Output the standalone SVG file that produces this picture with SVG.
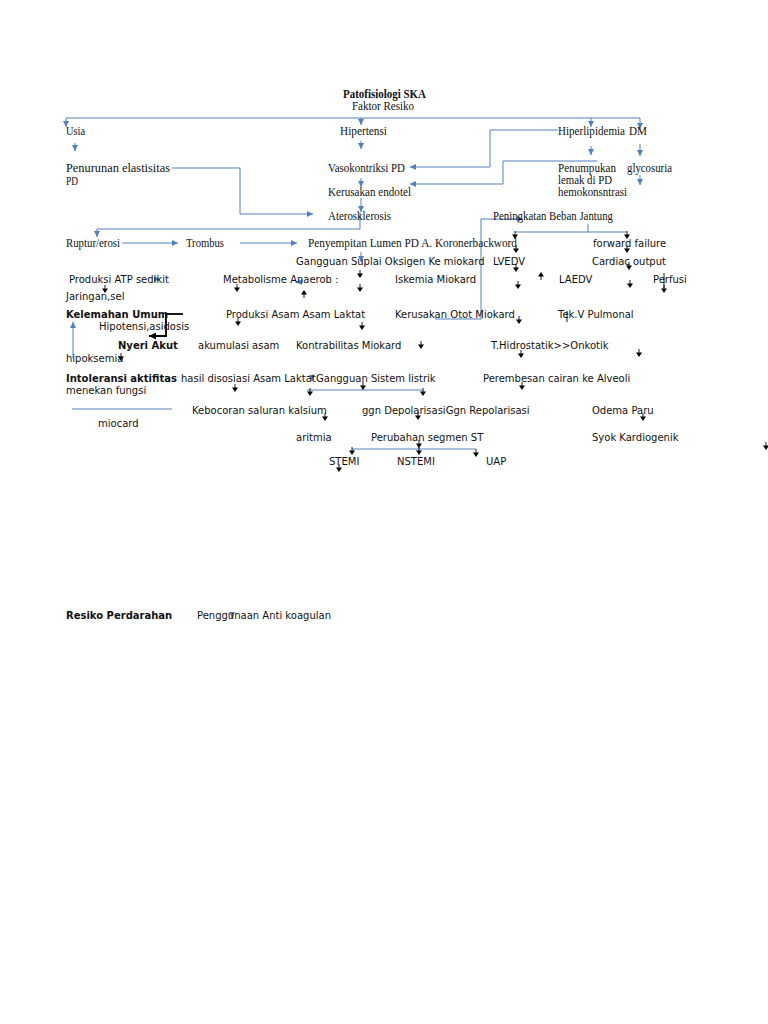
<svg xmlns="http://www.w3.org/2000/svg" xmlns:xlink="http://www.w3.org/1999/xlink" width="768" height="1024" viewBox="0 0 768 1024">
<style>
.s{font-family:"Liberation Serif","Times New Roman",serif;font-size:11.5px;fill:#111}
.b{font-weight:bold}
.t{font-family:"DejaVu Sans","Liberation Sans",sans-serif;font-size:10px;fill:#111}
.c{fill:none;stroke:#4F81BD;stroke-width:1}
.k{fill:none;stroke:#000;stroke-width:1.8}
</style>
<defs>
<marker id="ab" viewBox="0 0 10 10" refX="10" refY="5" markerUnits="userSpaceOnUse" markerWidth="6" markerHeight="6" orient="auto"><path d="M0,0 L10,5 L0,10 Z" fill="#4F81BD"/></marker>
<marker id="ak" viewBox="0 0 10 10" refX="10" refY="5" markerUnits="userSpaceOnUse" markerWidth="7" markerHeight="7" orient="auto"><path d="M0,0 L10,5 L0,10 Z" fill="#000"/></marker>
<g id="dn"><line x1="0" y1="-7" x2="0" y2="-2" stroke="#000" stroke-width="0.9"/><path d="M-3,-3.5 L3,-3.5 L0,1 Z" fill="#000"/></g>
<g id="up"><line x1="0" y1="7" x2="0" y2="2" stroke="#000" stroke-width="0.9"/><path d="M-3,3.5 L3,3.5 L0,-1 Z" fill="#000"/></g>
</defs>
<rect width="768" height="1024" fill="#fff"/>

<g id="connectors">
<path class="c" d="M66,118 H640"/>
<path class="c" d="M66,118 V127" marker-end="url(#ab)"/>
<path class="c" d="M361,118 V125" marker-end="url(#ab)"/>
<path class="c" d="M591,118 V127" marker-end="url(#ab)"/>
<path class="c" d="M640,118 V129" marker-end="url(#ab)"/>
<path class="c" d="M75,143 V151" marker-end="url(#ab)"/>
<path class="c" d="M361,141 V149" marker-end="url(#ab)"/>
<path class="c" d="M591,146 V155" marker-end="url(#ab)"/>
<path class="c" d="M640,144 V156" marker-end="url(#ab)"/>
<path class="c" d="M640,175 V185" marker-end="url(#ab)"/>
<path class="c" d="M172,168 H240 V214 H313" marker-end="url(#ab)"/>
<path class="c" d="M558,130 H490 V167 H410" marker-end="url(#ab)"/>
<path class="c" d="M597,161 H503 V184 H410" marker-end="url(#ab)"/>
<path class="c" d="M361,178 V187" marker-end="url(#ab)"/>
<path class="c" d="M361,198 V212" marker-end="url(#ab)"/>
<path class="c" d="M360,213 V229 H97 V237" marker-end="url(#ab)"/>
<path class="c" d="M122,243 H178" marker-end="url(#ab)"/>
<path class="c" d="M240,243 H297" marker-end="url(#ab)"/>
<path class="c" d="M361,252 V262" marker-end="url(#ab)"/>
<path class="c" d="M435,319 H481 V219 H523" marker-end="url(#ab)"/>
<path class="c" d="M588,224 V232 M515,232 H627"/>
<path class="c" d="M154,279 H160" marker-end="url(#ab)"/>
<path class="c" d="M302,282 H296" marker-end="url(#ab)"/>
<path class="c" d="M73,358 V322" marker-end="url(#ab)"/>
<path class="c" d="M312,376 V381" marker-end="url(#ab)"/>
<path class="c" d="M307,390 H423"/>
<path class="c" d="M72,409 H172"/>
<path class="c" d="M352,449 H476"/>
<path class="c" d="M232,612 V618" marker-end="url(#ab)"/>
<path class="k" d="M165,314 H183"/>
<path class="k" d="M166,314 V336 H149" marker-end="url(#ak)"/>
<line x1="567" y1="311" x2="567" y2="322" stroke="#000" stroke-width="0.9"/>
<line x1="664" y1="273" x2="664" y2="289" stroke="#000" stroke-width="0.9"/>
<use xlink:href="#dn" x="664" y="292"/>
<use xlink:href="#dn" x="515" y="238"/>
<use xlink:href="#dn" x="627" y="238"/>
<use xlink:href="#dn" x="516" y="252"/>
<use xlink:href="#dn" x="627" y="252"/>
<use xlink:href="#dn" x="516" y="271"/>
<use xlink:href="#dn" x="629" y="269"/>
<use xlink:href="#dn" x="518" y="288"/>
<use xlink:href="#dn" x="630" y="287"/>
<use xlink:href="#up" x="541" y="273"/>
<use xlink:href="#dn" x="360" y="277"/>
<use xlink:href="#dn" x="360" y="291"/>
<use xlink:href="#up" x="304" y="291"/>
<use xlink:href="#dn" x="105" y="292"/>
<use xlink:href="#dn" x="237" y="291"/>
<use xlink:href="#dn" x="238" y="325"/>
<use xlink:href="#dn" x="362" y="329"/>
<use xlink:href="#dn" x="519" y="323"/>
<use xlink:href="#dn" x="421" y="348"/>
<use xlink:href="#dn" x="521" y="357"/>
<use xlink:href="#dn" x="639" y="356"/>
<use xlink:href="#dn" x="121" y="360"/>
<use xlink:href="#dn" x="235" y="391"/>
<use xlink:href="#dn" x="310" y="395"/>
<use xlink:href="#dn" x="363" y="389"/>
<use xlink:href="#dn" x="423" y="395"/>
<use xlink:href="#dn" x="522" y="389"/>
<use xlink:href="#dn" x="325" y="420"/>
<use xlink:href="#dn" x="418" y="419"/>
<use xlink:href="#dn" x="643" y="420"/>
<use xlink:href="#dn" x="419" y="447"/>
<use xlink:href="#dn" x="352" y="454"/>
<use xlink:href="#dn" x="419" y="454"/>
<use xlink:href="#dn" x="476" y="456"/>
<use xlink:href="#dn" x="339" y="471"/>
<use xlink:href="#dn" x="766" y="449"/>
</g>

<g id="title"><text class="s b" x="343" y="97.5" textLength="83" lengthAdjust="spacingAndGlyphs">Patofisiologi SKA</text></g>
<g id="faktor"><text class="s" x="352" y="109.5" textLength="62" lengthAdjust="spacingAndGlyphs">Faktor Resiko</text></g>
<g id="usia"><text class="s" x="66" y="134.5" textLength="19" lengthAdjust="spacingAndGlyphs">Usia</text></g>
<g id="hipertensi"><text class="s" x="340" y="134.5" textLength="47" lengthAdjust="spacingAndGlyphs">Hipertensi</text></g>
<g id="hiperlipidemia"><text class="s" x="558" y="134.5" textLength="67" lengthAdjust="spacingAndGlyphs">Hiperlipidemia</text></g>
<g id="dm"><text class="s" x="629" y="134.5" textLength="18" lengthAdjust="spacingAndGlyphs">DM</text></g>
<g id="penurunan"><text class="s" x="66" y="171.5" textLength="104" lengthAdjust="spacingAndGlyphs">Penurunan elastisitas</text><text class="s" x="66" y="184.5" textLength="12" lengthAdjust="spacingAndGlyphs">PD</text></g>
<g id="vasokontriksi"><text class="s" x="328" y="171.5" textLength="77" lengthAdjust="spacingAndGlyphs">Vasokontriksi PD</text></g>
<g id="kerusakan-endotel"><text class="s" x="328" y="195.5" textLength="83" lengthAdjust="spacingAndGlyphs">Kerusakan endotel</text></g>
<g id="aterosklerosis"><text class="s" x="328" y="219.5" textLength="63" lengthAdjust="spacingAndGlyphs">Aterosklerosis</text></g>
<g id="penumpukan"><text class="s" x="558" y="171.5" textLength="58" lengthAdjust="spacingAndGlyphs">Penumpukan</text><text class="s" x="558" y="183.5" textLength="54" lengthAdjust="spacingAndGlyphs">lemak di PD</text><text class="s" x="558" y="195.5" textLength="69" lengthAdjust="spacingAndGlyphs">hemokonsntrasi</text></g>
<g id="glycosuria"><text class="s" x="627" y="171.5" textLength="45" lengthAdjust="spacingAndGlyphs">glycosuria</text></g>
<g id="peningkatan"><text class="s" x="493" y="219.5" textLength="120" lengthAdjust="spacingAndGlyphs">Peningkatan Beban Jantung</text></g>
<g id="ruptur"><text class="s" x="66" y="246.5" textLength="54" lengthAdjust="spacingAndGlyphs">Ruptur/erosi</text></g>
<g id="trombus"><text class="s" x="186" y="246.5" textLength="38" lengthAdjust="spacingAndGlyphs">Trombus</text></g>
<g id="penyempitan"><text class="s" x="308" y="246.5" textLength="209" lengthAdjust="spacingAndGlyphs">Penyempitan Lumen PD A. Koronerbackword</text></g>
<g id="forward"><text class="t" x="593" y="246.5">forward failure</text></g>
<g id="gangguan-suplai"><text class="t" x="296" y="264.5">Gangguan Suplai Oksigen Ke miokard</text></g>
<g id="lvedv"><text class="t" x="493" y="264.5">LVEDV</text></g>
<g id="cardiac"><text class="t" x="592" y="264.5">Cardiac output</text></g>
<g id="produksi-atp"><text class="t" x="69" y="282.5">Produksi ATP sedikit</text></g>
<g id="metabolisme"><text class="t" x="223" y="282.5">Metabolisme Anaerob :</text></g>
<g id="iskemia"><text class="t" x="395" y="282.5">Iskemia Miokard</text></g>
<g id="laedv"><text class="t" x="559" y="282.5">LAEDV</text></g>
<g id="perfusi"><text class="t" x="653" y="282.5">Perfusi</text></g>
<g id="jaringan"><text class="t" x="66" y="299.5">Jaringan,sel</text></g>
<g id="kelemahan"><text class="t b" x="66" y="317.5">Kelemahan Umum</text></g>
<g id="produksi-asam"><text class="t" x="226" y="317.5">Produksi Asam Asam Laktat</text></g>
<g id="kerusakan-otot"><text class="t" x="395" y="317.5">Kerusakan Otot Miokard</text></g>
<g id="tekv"><text class="t" x="558" y="317.5">Tek.V Pulmonal</text></g>
<g id="hipotensi"><text class="t" x="99" y="329.5">Hipotensi,asidosis</text></g>
<g id="nyeri"><text class="t b" x="118" y="348.5">Nyeri Akut</text></g>
<g id="akumulasi"><text class="t" x="198" y="348.5">akumulasi asam</text></g>
<g id="kontrabilitas"><text class="t" x="296" y="348.5">Kontrabilitas Miokard</text></g>
<g id="hidrostatik"><text class="t" x="491" y="348.5">T.Hidrostatik&gt;&gt;Onkotik</text></g>
<g id="hipoksemia"><text class="t" x="66" y="361.5">hipoksemia</text></g>
<g id="intoleransi"><text class="t b" x="66" y="381.5">Intoleransi aktifitas</text><text class="t" x="66" y="393.5">menekan fungsi</text><text class="t" x="98" y="426.5">miocard</text></g>
<g id="hasil"><text class="t" x="181" y="381.5">hasil disosiasi Asam Laktat</text></g>
<g id="gangguan-sistem"><text class="t" x="316" y="381.5">Gangguan Sistem listrik</text></g>
<g id="perembesan"><text class="t" x="483" y="381.5">Perembesan cairan ke Alveoli</text></g>
<g id="kebocoran"><text class="t" x="192" y="413.5">Kebocoran saluran kalsium</text></g>
<g id="ggn"><text class="t" x="362" y="413.5">ggn DepolarisasiGgn Repolarisasi</text></g>
<g id="odema"><text class="t" x="592" y="413.5">Odema Paru</text></g>
<g id="aritmia"><text class="t" x="296" y="440.5">aritmia</text></g>
<g id="perubahan"><text class="t" x="371" y="440.5">Perubahan segmen ST</text></g>
<g id="syok"><text class="t" x="592" y="440.5">Syok Kardiogenik</text></g>
<g id="stemi"><text class="t" x="329" y="464.5">STEMI</text></g>
<g id="nstemi"><text class="t" x="397" y="464.5">NSTEMI</text></g>
<g id="uap"><text class="t" x="486" y="464.5">UAP</text></g>
<g id="resiko"><text class="t b" x="66" y="618.5">Resiko Perdarahan</text></g>
<g id="penggunaan"><text class="t" x="197" y="618.5">Penggunaan Anti koagulan</text></g>
</svg>
